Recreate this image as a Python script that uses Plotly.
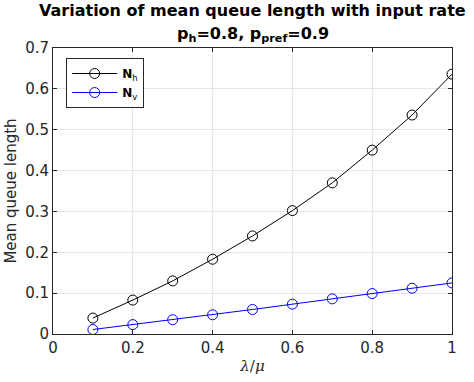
import plotly.graph_objects as go

x_vals = [0.1, 0.2, 0.3, 0.4, 0.5, 0.6, 0.7, 0.8, 0.9, 1.0]
n_h = [0.039, 0.083, 0.130, 0.183, 0.240, 0.302, 0.370, 0.450, 0.536, 0.636]
n_v = [0.011, 0.023, 0.035, 0.047, 0.060, 0.073, 0.086, 0.099, 0.112, 0.125]
x_ticks = [0, 0.2, 0.4, 0.6, 0.8, 1]
y_ticks = [0, 0.1, 0.2, 0.3, 0.4, 0.5, 0.6, 0.7]

fig = go.Figure()
fig.add_trace(go.Scatter(x=x_vals, y=n_h, mode="lines+markers", name="<b>N</b><sub>h</sub>",
                         line=dict(color="black", width=1),
                         marker=dict(symbol="circle-open", size=10, color="black", line=dict(width=1))))
fig.add_trace(go.Scatter(x=x_vals, y=n_v, mode="lines+markers", name="<b>N</b><sub>v</sub>",
                         line=dict(color="blue", width=1),
                         marker=dict(symbol="circle-open", size=10, color="blue", line=dict(width=1))))

axis_common = dict(showline=True, linecolor="#262626", linewidth=1, mirror="ticks",
                   ticks="inside", ticklen=4, tickcolor="#262626",
                   showgrid=True, gridcolor="#e6e6e6", zeroline=False, automargin=False,
                   tickfont=dict(family="DejaVu Sans", size=15, color="#262626"))

fig.update_layout(
    width=474, height=382,
    margin=dict(l=53, r=22, t=48, b=48),
    paper_bgcolor="white", plot_bgcolor="white",
    xaxis=dict(range=[0, 1], tickvals=x_ticks, ticktext=[str(t) for t in x_ticks],
               title=dict(text="<i>λ</i>/<i>μ</i>", font=dict(family="DejaVu Serif", size=15, color="#262626"), standoff=4),
               **axis_common),
    yaxis=dict(range=[0, 0.7], tickvals=y_ticks, ticktext=[str(t) for t in y_ticks],
               title=dict(text="Mean queue length", font=dict(family="DejaVu Sans", size=15, color="#262626"), standoff=4),
               **axis_common),
    legend=dict(x=0.033, y=0.965, xanchor="left", yanchor="top",
                bgcolor="white", bordercolor="#262626", borderwidth=1,
                font=dict(family="DejaVu Sans", size=12, color="black"),
                itemwidth=45, tracegroupgap=0, valign="middle"),
    showlegend=True,
    annotations=[
        dict(text="<b>Variation of mean queue length with input rate</b>", xref="paper", yref="paper",
             x=0.5, y=1.0, xanchor="center", yanchor="bottom", yshift=26, showarrow=False,
             font=dict(family="DejaVu Sans", size=16, color="black")),
        dict(text="<b>p<sub>h</sub>=0.8, p<sub>pref</sub>=0.9</b>", xref="paper", yref="paper",
             x=0.5, y=1.0, xanchor="center", yanchor="bottom", yshift=1, showarrow=False,
             font=dict(family="DejaVu Sans", size=16, color="black")),
    ],
)

fig.write_html("out.html", config={"displayModeBar": False},
               post_script="document.body.style.margin='0';document.body.style.overflow='hidden';")
